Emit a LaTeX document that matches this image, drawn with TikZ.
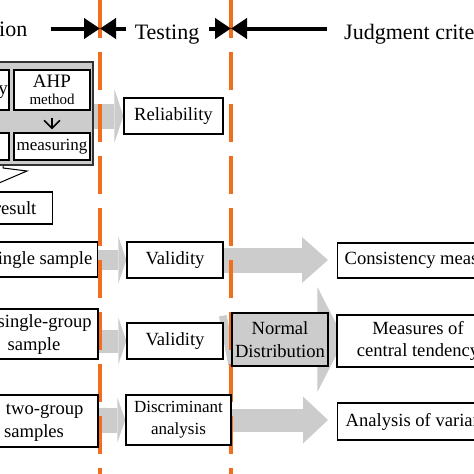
\documentclass[tikz,border=0pt]{standalone}
\usepackage{fontspec}
\setmainfont{Liberation Serif}
\newfontfamily\symfont{DejaVu Sans}
\usetikzlibrary{calc}
\usetikzlibrary{arrows.meta}
\definecolor{stageorange}{RGB}{240,110,30}
\definecolor{flowgray}{RGB}{204,204,204}
\pgfdeclarelayer{back}
\pgfsetlayers{back,main}

\begin{document}
\begin{tikzpicture}[x=1pt, y=-1pt,
  box/.style={draw, line width=1.3pt, fill=white, inner sep=0pt, align=center, font=\fontsize{18.6}{22.5}\selectfont},
  hdr/.style={line width=4pt, -{Triangle[length=16pt,width=20pt]}},
  guide/.style={stageorange, line width=4pt, dash pattern=on 38pt off 14pt},
  flow/.style n args={3}{draw=flowgray, line width=#1, -{Triangle[length=#2,width=#3,line width=0pt]}}]

\useasboundingbox (0,0) rectangle (474,474);
\clip (0,0) rectangle (474,474);

% stage borders
\draw[guide] (100,0) -- (100,474);
\draw[guide] (231,0) -- (231,474);
\coordinate (borderA) at (100,28.5);
\coordinate (borderB) at (231,28.5);

% headings
\node[anchor=base east, inner sep=0pt, font=\fontsize{22}{24}\selectfont] (collect) at (27.5,36) {Data collection};
\node[anchor=base, inner sep=0pt, font=\fontsize{22}{24}\selectfont] (testing) at (167,39) {Testing};
\node[anchor=base west, inner sep=0pt, font=\fontsize{22}{24}\selectfont] (judgment) at (344,39) {Judgment criteria};
\draw[hdr, shorten <=23pt] (collect.east |- borderA) -- (borderA);
\draw[hdr, shorten <=9pt] (testing.west |- borderA) -- (borderA);
\draw[hdr, shorten <=10pt] (testing.east |- borderB) -- (borderB);
\draw[hdr, shorten <=17pt] (judgment.west |- borderB) -- (borderB);

% data collection
\node[box, draw=black!80, fill=flowgray, minimum width=113pt, minimum height=103pt] (methods) at (36.5,113.5) {};
\node[box, font=\fontsize{19}{22}\selectfont, minimum width=69pt, minimum height=40pt, text width=67pt, align=right] (survey) at (-25.5,90) {Survey};
\node[box, minimum width=69pt, minimum height=27pt] (lowleft) at (-25.5,146.5) {};
\node[box, font=\fontsize{19}{20}\selectfont, minimum width=76pt, minimum height=40pt] (ahp) at (52,90) {AHP\\[-3pt]{\fontsize{15}{16}\selectfont method}};
\node[box, font=\fontsize{17}{20}\selectfont, minimum width=76pt, minimum height=27pt] (measuring) at (52,146.5) {measuring};
\draw[line width=1.5pt, -{Straight Barb[length=8pt,width=16pt]}, shorten <=7pt, shorten >=3pt] (ahp) -- (measuring);
\draw[line width=1pt, fill=white] (3,165) -- (3,168) -- (27,171) -- (-8,186);

\node[box, anchor=east, minimum height=32pt, text width=60pt, align=right, inner xsep=16pt] (result) at (53,208) {result};
\node[box, anchor=east, minimum height=35pt, inner xsep=5pt] (single) at (98,259.5) {{\symfont ①}~single sample};
\node[box, minimum width=128pt, minimum height=50pt] (onegroup) at (34,334) {{\symfont ②}~single-group\\sample};
\node[box, minimum width=128pt, minimum height=52pt] (twogroup) at (34,421) {{\symfont ③}~two-group\\samples};

% testing
\node[box, minimum width=99pt, minimum height=36pt] (reliability) at (173.5,116) {Reliability};
\node[box, minimum width=96pt, minimum height=36pt] (validityA) at (175,260) {Validity};
\node[box, minimum width=96pt, minimum height=36pt] (validityB) at (175,341) {Validity};
\node[box, font=\fontsize{17}{22}\selectfont, minimum width=105pt, minimum height=50pt] (discrim) at (178.5,420) {Discriminant\\analysis};

% judgment criteria
\node[box, fill=flowgray, minimum width=96pt, minimum height=53pt] (normal) at (280,339.5) {Normal\\Distribution};
\node[box, anchor=west, minimum height=35pt, inner xsep=7pt] (consistency) at (337,260.5) {Consistency measures};
\node[box, minimum width=162pt, minimum height=52pt] (tendency) at (418,341) {Measures of\\central tendency};
\node[box, anchor=west, minimum height=37pt, inner xsep=8pt] (anova) at (337,421.5) {Analysis of variance};

\begin{pgfonlayer}{back}
\draw[flow={25pt}{9pt}{54pt}] (methods.east |- reliability.west) -- (reliability.west);
\draw[flow={20pt}{8pt}{47pt}] (single.east |- validityA.west) -- (validityA.west);
\draw[flow={25pt}{26pt}{46pt}, shorten >=9pt] (validityA.east) -- (consistency.west |- validityA.east);
\draw[flow={23pt}{8pt}{47pt}] (onegroup.east |- validityB.west) -- (validityB.west);
\draw[draw=flowgray, line width=50pt] (validityB.east) -- (normal.west);
\draw[flow={50pt}{27pt}{105pt}, shorten >=-8pt] (normal.center) -- (tendency.west |- normal.center);
\draw[flow={25pt}{8pt}{45pt}] (twogroup.east |- discrim.west) -- (discrim.west);
\draw[flow={23pt}{25pt}{47pt}, shorten >=9pt] (discrim.east) -- (anova.west |- discrim.east);
\end{pgfonlayer}

\end{tikzpicture}
\end{document}
